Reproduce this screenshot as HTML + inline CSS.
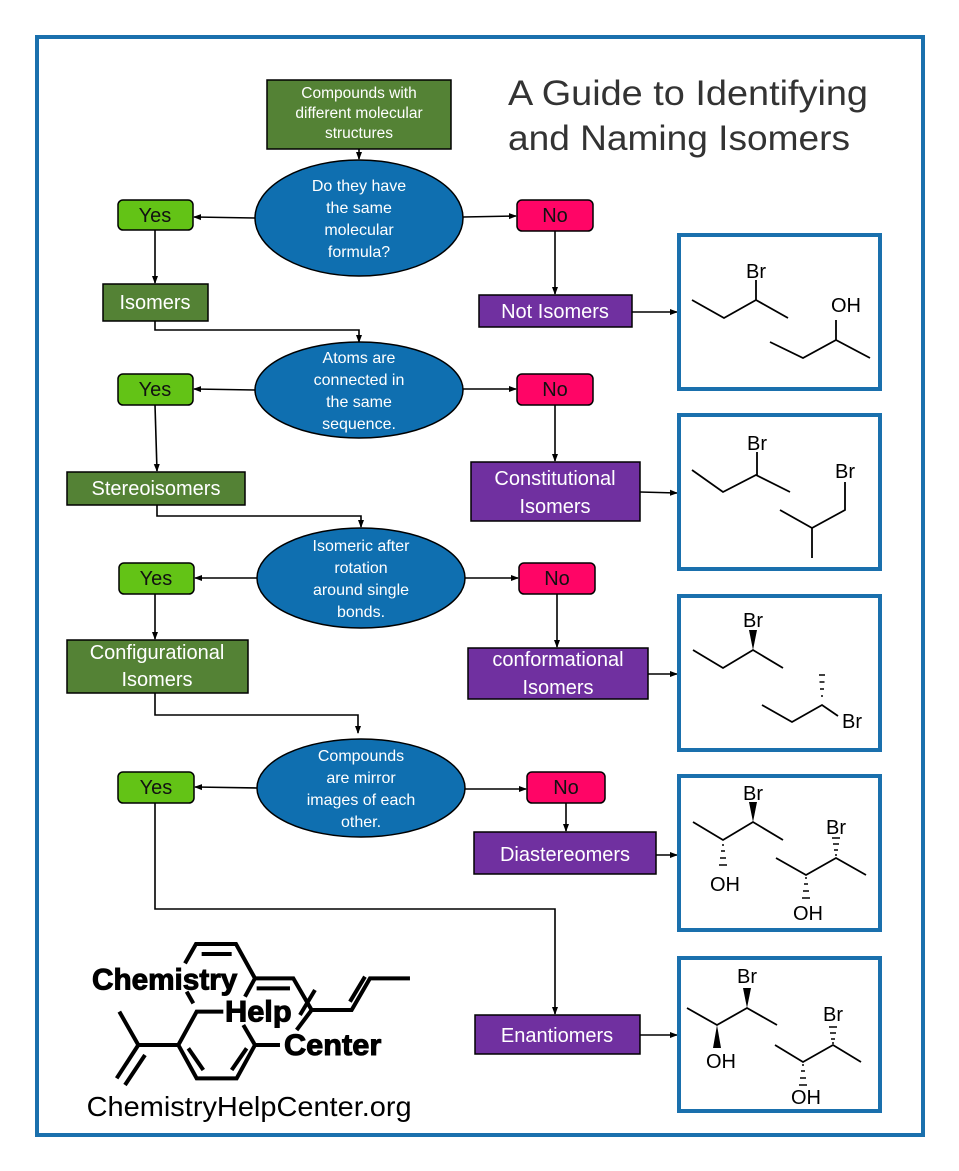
<!DOCTYPE html>
<html><head><meta charset="utf-8"><style>
html,body{margin:0;padding:0;background:#fff;}
svg{display:block;font-family:"Liberation Sans",sans-serif;}
</style></head><body>
<svg width="959" height="1171" viewBox="0 0 959 1171" xmlns="http://www.w3.org/2000/svg">
<defs>
<marker id="ah" markerWidth="8" markerHeight="8" refX="7" refY="4" orient="auto" markerUnits="userSpaceOnUse">
<path d="M0,1 L8,4 L0,7 z" fill="#000"/></marker>
</defs>
<rect x="0" y="0" width="959" height="1171" fill="#fff"/>
<rect x="37" y="37" width="886" height="1098" fill="none" stroke="#1a70ad" stroke-width="4"/>

<text x="508" y="105" font-size="35" fill="#333" textLength="360" lengthAdjust="spacingAndGlyphs">A Guide to Identifying</text>
<text x="508" y="150" font-size="35" fill="#333" textLength="342" lengthAdjust="spacingAndGlyphs">and Naming Isomers</text>

<g stroke="#000" stroke-width="1.6" fill="none">
<line x1="359" y1="149" x2="359" y2="159" marker-end="url(#ah)"/>
<line x1="255" y1="218" x2="194" y2="217" marker-end="url(#ah)"/>
<line x1="463" y1="217" x2="516" y2="216" marker-end="url(#ah)"/>
<line x1="155" y1="230" x2="155" y2="283" marker-end="url(#ah)"/>
<line x1="555" y1="231" x2="555" y2="294" marker-end="url(#ah)"/>
<polyline points="155,321 155,330 359,330 359,342" marker-end="url(#ah)"/>
<line x1="632" y1="312" x2="677" y2="312" marker-end="url(#ah)"/>

<line x1="255" y1="390" x2="194" y2="389" marker-end="url(#ah)"/>
<line x1="463" y1="389" x2="516" y2="389" marker-end="url(#ah)"/>
<line x1="155" y1="405" x2="157" y2="471" marker-end="url(#ah)"/>
<line x1="555" y1="405" x2="555" y2="461" marker-end="url(#ah)"/>
<polyline points="157,505 157,516 361,516 361,527" marker-end="url(#ah)"/>
<line x1="640" y1="492" x2="677" y2="493" marker-end="url(#ah)"/>

<line x1="257" y1="578" x2="195" y2="578" marker-end="url(#ah)"/>
<line x1="465" y1="578" x2="518" y2="578" marker-end="url(#ah)"/>
<line x1="155" y1="594" x2="155" y2="639" marker-end="url(#ah)"/>
<line x1="557" y1="594" x2="557" y2="647" marker-end="url(#ah)"/>
<polyline points="155,693 155,715 358,715 358,733" marker-end="url(#ah)"/>
<line x1="648" y1="674" x2="677" y2="674" marker-end="url(#ah)"/>

<line x1="257" y1="788" x2="195" y2="787" marker-end="url(#ah)"/>
<line x1="465" y1="789" x2="526" y2="789" marker-end="url(#ah)"/>
<line x1="566" y1="803" x2="566" y2="831" marker-end="url(#ah)"/>
<line x1="656" y1="855" x2="677" y2="855" marker-end="url(#ah)"/>
<polyline points="155,803 155,909 555,909 555,1014" marker-end="url(#ah)"/>
<line x1="640" y1="1035" x2="677" y2="1035" marker-end="url(#ah)"/>
</g>

<rect x="267" y="80" width="184" height="69" fill="#548235" stroke="#000" stroke-width="1.5"/>
<g fill="#fff" font-size="15.5" text-anchor="middle">
<text x="359" y="98">Compounds with</text>
<text x="359" y="118">different molecular</text>
<text x="359" y="138">structures</text>
</g>

<g fill="#0f6fb0" stroke="#000" stroke-width="1.5">
<ellipse cx="359" cy="218" rx="104" ry="58"/>
<ellipse cx="359" cy="390" rx="104" ry="48"/>
<ellipse cx="361" cy="578" rx="104" ry="50"/>
<ellipse cx="361" cy="788" rx="104" ry="49"/>
</g>
<g fill="#fff" font-size="16" text-anchor="middle">
<text x="359" y="191">Do they have</text><text x="359" y="213">the same</text><text x="359" y="235">molecular</text><text x="359" y="257">formula?</text>
<text x="359" y="363">Atoms are</text><text x="359" y="385">connected in</text><text x="359" y="407">the same</text><text x="359" y="429">sequence.</text>
<text x="361" y="551">Isomeric after</text><text x="361" y="573">rotation</text><text x="361" y="595">around single</text><text x="361" y="617">bonds.</text>
<text x="361" y="761">Compounds</text><text x="361" y="783">are mirror</text><text x="361" y="805">images of each</text><text x="361" y="827">other.</text>
</g>

<g stroke="#000" stroke-width="1.5">
<rect x="118" y="200" width="75" height="30" rx="5" fill="#63c316"/>
<rect x="118" y="374" width="75" height="31" rx="5" fill="#63c316"/>
<rect x="119" y="563" width="75" height="31" rx="5" fill="#63c316"/>
<rect x="118" y="772" width="76" height="31" rx="5" fill="#63c316"/>
<rect x="517" y="200" width="76" height="31" rx="5" fill="#ff0566"/>
<rect x="517" y="374" width="76" height="31" rx="5" fill="#ff0566"/>
<rect x="519" y="563" width="76" height="31" rx="5" fill="#ff0566"/>
<rect x="527" y="772" width="78" height="31" rx="5" fill="#ff0566"/>
</g>
<g font-size="20" text-anchor="middle" fill="#111">
<text x="155" y="222">Yes</text><text x="155" y="396">Yes</text><text x="156" y="585">Yes</text><text x="156" y="794">Yes</text>
<text x="555" y="222">No</text><text x="555" y="396">No</text><text x="557" y="585">No</text><text x="566" y="794">No</text>
</g>

<g fill="#548235" stroke="#000" stroke-width="1.5">
<rect x="103" y="284" width="105" height="37"/>
<rect x="67" y="472" width="178" height="33"/>
<rect x="67" y="640" width="181" height="53"/>
</g>
<g fill="#fff" font-size="20" text-anchor="middle">
<text x="155" y="309">Isomers</text>
<text x="156" y="495">Stereoisomers</text>
<text x="157" y="659">Configurational</text>
<text x="157" y="686">Isomers</text>
</g>

<g fill="#7030a0" stroke="#000" stroke-width="1.5">
<rect x="479" y="295" width="153" height="32"/>
<rect x="471" y="462" width="169" height="59"/>
<rect x="468" y="648" width="180" height="51"/>
<rect x="474" y="832" width="182" height="42"/>
<rect x="475" y="1015" width="165" height="39"/>
</g>
<g fill="#fff" font-size="20" text-anchor="middle">
<text x="555" y="318">Not Isomers</text>
<text x="555" y="485">Constitutional</text><text x="555" y="513">Isomers</text>
<text x="558" y="666">conformational</text><text x="558" y="694">Isomers</text>
<text x="565" y="861">Diastereomers</text>
<text x="557" y="1042">Enantiomers</text>
</g>

<g fill="none" stroke="#1a70ad" stroke-width="4">
<rect x="679" y="235" width="201" height="154"/>
<rect x="679" y="415" width="201" height="154"/>
<rect x="679" y="596" width="201" height="154"/>
<rect x="679" y="776" width="201" height="154"/>
<rect x="679" y="958" width="201" height="153"/>
</g>

<g stroke="#000" stroke-width="1.8" fill="none">
<polyline points="692,300 724,318 756,300 788,318"/><line x1="756" y1="300" x2="756" y2="280"/>
<polyline points="770,342 803,358 836,340 870,358"/><line x1="836" y1="340" x2="836" y2="320"/>
<polyline points="692,470 723,492 756,475 790,492"/><line x1="757" y1="475" x2="757" y2="452"/>
<polyline points="780,510 812,528 845,510 845,482"/><line x1="812" y1="528" x2="812" y2="558"/>
<polyline points="693,650 723,668 753,650 783,668"/>
<polyline points="762,705 792,722 822,705 838,716"/>
<polyline points="693,822 723,840 753,822 783,840"/>
<polyline points="776,858 806,875 836,858 866,875"/>
<polyline points="687,1008 717,1025 747,1008 777,1025"/>
<polyline points="775,1045 803,1062 833,1045 861,1062"/>
</g>
<g fill="#000">
<polygon points="753,650 749,630 757,630"/>
<polygon points="753,822 749,802 757,802"/>
<polygon points="747,1008 743,988 751,988"/>
<polygon points="717,1025 713,1048 721,1048"/>
</g>
<g stroke="#000" stroke-width="1.5">
<path d="M819,675h6M819.5,682h5M820,689h4M821,696h2"/>
<path d="M719,865h8M720,858h6M721,851h4M722,845h2"/>
<path d="M832,838h8M833,844h6M834,850h4M835,855h2"/>
<path d="M802,898h8M803,891h6M804,884h4M805,878h2"/>
<path d="M829,1027h8M830,1033h6M831,1039h4M832,1043h2"/>
<path d="M799,1085h8M800,1078h6M801,1071h4M802,1065h2"/>
</g>
<g font-size="20" fill="#000" text-anchor="middle">
<text x="756" y="278">Br</text><text x="846" y="312">OH</text>
<text x="757" y="450">Br</text><text x="845" y="478">Br</text>
<text x="753" y="627">Br</text><text x="852" y="728">Br</text>
<text x="753" y="800">Br</text><text x="725" y="891">OH</text>
<text x="836" y="834">Br</text><text x="808" y="920">OH</text>
<text x="747" y="983">Br</text><text x="721" y="1068">OH</text>
<text x="833" y="1021">Br</text><text x="806" y="1104">OH</text>
</g>

<g transform="translate(80,930) scale(0.3333)">
<g stroke="#000" stroke-width="12" fill="none">
<polyline points="315,100 348,42 468,42 525,145 640,145 695,240 815,240 870,145 990,145"/>
<line x1="365" y1="72" x2="455" y2="72"/>
<line x1="530" y1="175" x2="630" y2="175"/>
<line x1="660" y1="255" x2="705" y2="180"/>
<line x1="810" y1="215" x2="855" y2="140"/>
<line x1="695" y1="240" x2="650" y2="300"/>
<polyline points="430,245 350,245 295,345 350,445 470,445 525,345 600,345"/>
<line x1="340" y1="220" x2="320" y2="185"/>
<line x1="325" y1="355" x2="370" y2="420"/>
<line x1="455" y1="420" x2="500" y2="355"/>
<line x1="525" y1="345" x2="490" y2="285"/>
<line x1="525" y1="145" x2="495" y2="200"/>
<polyline points="295,345 175,345 118,245"/>
<line x1="175" y1="345" x2="110" y2="445"/>
<line x1="195" y1="375" x2="135" y2="465"/>
</g>
<g font-weight="bold" font-size="88" fill="#000" stroke="#000" stroke-width="3">
<text x="36" y="178" textLength="436" lengthAdjust="spacingAndGlyphs">Chemistry</text>
<text x="435" y="275" textLength="200" lengthAdjust="spacingAndGlyphs">Help</text>
<text x="612" y="375" textLength="292" lengthAdjust="spacingAndGlyphs">Center</text>
</g>
<text x="20" y="558" font-size="84" fill="#000" textLength="975" lengthAdjust="spacingAndGlyphs">ChemistryHelpCenter.org</text>
</g>
</svg>
</body></html>
